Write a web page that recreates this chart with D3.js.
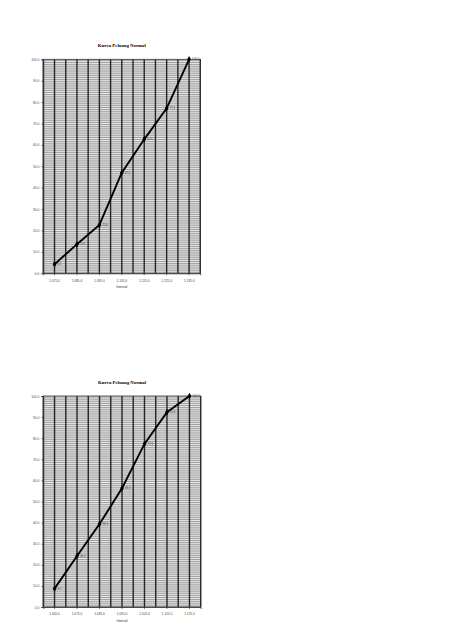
<!DOCTYPE html>
<html><head><meta charset="utf-8">
<script src="https://cdn.jsdelivr.net/npm/d3@7"></script>
<style>body{margin:0;background:#fff}svg{display:block}</style>
</head><body>
<svg id="c" width="474" height="632"></svg>
<script>
const chartTitle = "Kurva Peluang Normal";
const xAxisTitle = "Interval";
const categories1 = ["1.075.0","1.085.0","1.095.0","1.105.0","1.115.0","1.125.0","1.135.0"];
const values1 = [4.2, 13.6, 22.6, 47.0, 62.6, 77.1, 100.0];
const categories2 = ["1.065.0","1.075.0","1.085.0","1.095.0","1.105.0","1.115.0","1.125.0"];
const values2 = [8.7, 24.2, 39.3, 56.3, 77.3, 92.3, 100.0];
const yTicks = [0,10,20,30,40,50,60,70,80,90,100];

const svg = d3.select("#c");

function drawChart(cats, vals, box){
  const g = svg.append("g");
  const x = d3.scaleBand().domain(cats).range([box.left, box.right]);
  const y = d3.scaleLinear().domain([0,100]).range([box.bottom, box.top]);
  g.append("rect").attr("x",box.left).attr("y",box.top)
    .attr("width",box.right-box.left).attr("height",box.bottom-box.top)
    .attr("fill","#a2a2a2");
  const minor = d3.range(0,101,1);
  g.selectAll(".hm").data(minor).join("line")
    .attr("x1",box.left).attr("x2",box.right)
    .attr("y1",d=>y(d)).attr("y2",d=>y(d))
    .attr("stroke","#ffffff").attr("stroke-width",0.75);
  const vx = [];
  cats.forEach(c=>{vx.push(x(c)); vx.push(x(c)+x.bandwidth()/2);});
  vx.push(box.right);
  g.selectAll(".v").data(vx).join("line")
    .attr("x1",d=>d).attr("x2",d=>d).attr("y1",box.top).attr("y2",box.bottom)
    .attr("stroke","#262626").attr("stroke-width",1.4);
  g.append("rect").attr("x",box.left).attr("y",box.top)
    .attr("width",box.right-box.left).attr("height",box.bottom-box.top)
    .attr("fill","none").attr("stroke","#333").attr("stroke-width",0.8);
  const ya = d3.axisLeft(y).tickValues(yTicks).tickFormat(d3.format(".1f")).tickSize(2).tickPadding(2);
  const yg = g.append("g").attr("transform",`translate(${box.left},0)`).call(ya);
  yg.select(".domain").attr("stroke","#333").attr("stroke-width",0.8);
  yg.selectAll("text").attr("font-size",3.2).attr("font-family","Liberation Sans, Arial").attr("fill","#444");
  yg.selectAll("line").attr("stroke","#333").attr("stroke-width",0.6);
  const xa = d3.axisBottom(x).tickSize(2).tickPadding(4);
  const xg = g.append("g").attr("transform",`translate(0,${box.bottom})`).call(xa);
  xg.select(".domain").attr("stroke","#333").attr("stroke-width",0.8);
  xg.selectAll("text").attr("font-size",3.2).attr("font-family","Liberation Sans, Arial").attr("fill","#444");
  xg.selectAll("line").attr("stroke","#333").attr("stroke-width",0.6);
  g.append("text").attr("x",(box.left+box.right)/2).attr("y",box.top-12)
    .attr("text-anchor","middle").attr("font-size",4.8).attr("font-weight","bold")
    .attr("font-family","Liberation Serif, Times New Roman").text(chartTitle);
  g.append("text").attr("x",(box.left+box.right)/2).attr("y",box.bottom+15)
    .attr("text-anchor","middle").attr("font-size",3.4)
    .attr("font-family","Liberation Sans, Arial").attr("fill","#333").text(xAxisTitle);
  const pts = cats.map((c,i)=>({c, v:vals[i]}));
  const line = d3.line().x(d=>x(d.c)+x.bandwidth()/2).y(d=>y(d.v));
  g.append("path").datum(pts).attr("d",line).attr("fill","none")
    .attr("stroke","#000").attr("stroke-width",1.9);
  g.selectAll(".m").data(pts).join("path")
    .attr("transform",d=>`translate(${x(d.c)+x.bandwidth()/2},${y(d.v)})`)
    .attr("d",d3.symbol(d3.symbolDiamond,12)).attr("fill","#000");
  g.selectAll(".lb").data(pts).join("text")
    .attr("x",d=>x(d.c)+x.bandwidth()/2+3).attr("y",d=>y(d.v)+1)
    .attr("font-size",2.8).attr("font-family","Liberation Sans, Arial").attr("fill","#444")
    .text(d=>d3.format(".1f")(d.v));
}

drawChart(categories1, values1, {left:43.3, right:200.3, top:59.3, bottom:273.3});
drawChart(categories2, values2, {left:43.3, right:200.7, top:396, bottom:607});
</script>
</body></html>
